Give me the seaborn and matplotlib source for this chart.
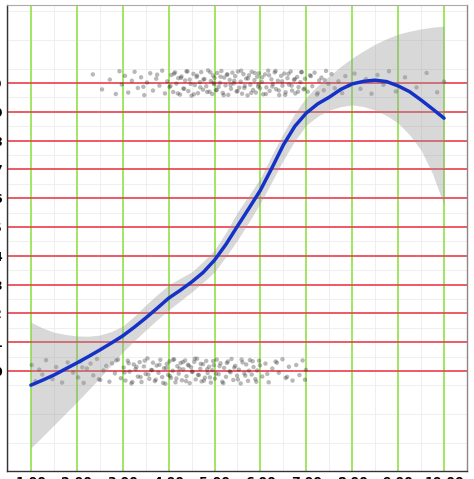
import matplotlib
matplotlib.use("Agg")
import matplotlib.pyplot as plt
import seaborn as sns

sns.set_style("white")
plt.rcParams['figure.dpi'] = 100

# axis breaks (labels are cropped in the reference)
x_breaks = [1, 2, 3, 4, 5, 6, 7, 8, 9, 10]
x_labels = ["1.00", "2.00", "3.00", "4.00", "5.00", "6.00", "7.00", "8.00", "9.00", "10.00"]
y_breaks = [0, 1, 2, 3, 4, 5, 6, 7, 8, 9, 10]
y_labels = ["0", "1", "2", "3", "4", "5", "6", "7", "8", "9", "10"]

# jittered observations, lower group
bot_x = [1.02, 1.10, 1.18, 1.25, 1.33, 1.47, 1.55, 1.68, 1.80, 1.92,
         2.03, 2.08, 2.15, 2.22, 2.30, 2.36, 2.44, 2.51, 2.58, 2.64, 2.71, 2.77, 2.83, 2.90, 2.96,
         3.02, 3.06, 3.11, 3.15, 3.19, 3.24, 3.28, 3.33, 3.37, 3.41, 3.46, 3.50, 3.54, 3.58, 3.62,
         3.66, 3.70, 3.74, 3.78, 3.82, 3.86, 3.90, 3.93, 3.96, 3.99,
         4.02, 4.05, 4.09, 4.12, 4.15, 4.19, 4.22, 4.26, 4.29, 4.32, 4.36, 4.39, 4.42, 4.46, 4.49,
         4.52, 4.56, 4.59, 4.62, 4.66, 4.69, 4.72, 4.75, 4.79, 4.82, 4.85, 4.88, 4.92, 4.95, 4.98,
         5.01, 5.05, 5.09, 5.13, 5.17, 5.21, 5.25, 5.29, 5.33, 5.37, 5.41, 5.45, 5.49, 5.53, 5.57,
         5.61, 5.65, 5.69, 5.73, 5.77, 5.81, 5.85, 5.89, 5.93, 5.97,
         6.04, 6.11, 6.18, 6.26, 6.33, 6.40, 6.48, 6.55, 6.62, 6.70, 6.78, 6.85, 6.92, 6.97, 6.99,
         3.04, 3.13, 3.21, 3.30, 3.39, 3.48, 3.56, 3.64, 3.72, 3.80, 3.88, 3.95, 4.03, 4.10, 4.17,
         4.24, 4.31, 4.38, 4.44, 4.51, 4.57, 4.64, 4.70, 4.77, 4.84, 4.90, 4.97, 5.03, 5.11, 5.19,
         5.27, 5.35, 5.43, 5.51, 5.59, 5.67, 5.75, 5.83, 5.91, 5.99, 6.15, 6.36, 6.58, 2.12, 2.48, 2.86]
bot_y = [0.21, -0.35, 0.05, -0.12, 0.38, -0.28, 0.14, -0.40, 0.30, -0.05,
         -0.22, 0.33, -0.41, 0.09, 0.26, -0.15, 0.42, -0.31, 0.02, 0.18, -0.37, 0.27, -0.08, 0.40, -0.25,
         0.12, -0.33, 0.36, -0.02, -0.43, 0.23, 0.07, -0.19, 0.31, -0.38, 0.16, -0.10, 0.44, -0.27, 0.04,
         0.29, -0.35, 0.19, -0.06, 0.39, -0.21, 0.10, -0.44, 0.25, -0.13,
         0.34, -0.24, 0.01, 0.41, -0.39, 0.17, -0.09, 0.28, -0.32, 0.06, 0.37, -0.18, 0.22, -0.42, 0.13,
         -0.03, 0.32, -0.29, 0.43, -0.14, 0.08, -0.36, 0.24, -0.23, 0.35, -0.07, 0.15, -0.40, 0.03, 0.20,
         -0.26, 0.40, -0.11, 0.27, -0.37, 0.11, -0.20, 0.33, -0.01, 0.42, -0.31, 0.18, -0.16, 0.05, -0.43,
         0.30, -0.08, 0.23, -0.34, 0.38, -0.12, 0.14, -0.28, 0.02, 0.36,
         -0.19, 0.26, -0.39, 0.09, 0.33, -0.06, 0.41, -0.24, 0.15, -0.33, 0.21, -0.14, 0.37, -0.30, 0.04,
         -0.05, 0.27, -0.38, 0.15, -0.21, 0.36, -0.12, 0.03, -0.30, 0.22, -0.41, 0.11, -0.17, 0.39, -0.26,
         0.08, 0.31, -0.35, 0.19, -0.02, 0.43, -0.13, 0.25, -0.33, 0.06, -0.22, 0.35, -0.09, 0.17, -0.42,
         0.28, -0.04, 0.12, -0.29, 0.40, -0.16, 0.01, 0.34, -0.37, 0.20, -0.10, 0.29, -0.20, 0.13, -0.28, 0.37]

# jittered observations, upper group
top_x = [2.35, 2.55, 2.72, 2.85, 2.93, 2.98,
         3.05, 3.12, 3.20, 3.26, 3.33, 3.40, 3.47, 3.53, 3.60, 3.66, 3.73, 3.80, 3.86, 3.92, 3.97,
         4.02, 4.06, 4.10, 4.14, 4.17, 4.21, 4.25, 4.28, 4.32, 4.36, 4.39, 4.43, 4.46, 4.50, 4.54,
         4.57, 4.61, 4.64, 4.68, 4.71, 4.75, 4.78, 4.82, 4.86, 4.89, 4.92, 4.95, 4.97, 4.99, 5.00,
         5.03, 5.06, 5.09, 5.12, 5.15, 5.18, 5.21, 5.24, 5.27, 5.30, 5.33, 5.36, 5.39, 5.42, 5.45,
         5.48, 5.51, 5.54, 5.57, 5.60, 5.63, 5.66, 5.69, 5.72, 5.75, 5.78, 5.81, 5.84, 5.87, 5.90,
         5.93, 5.95, 5.97, 5.99,
         6.03, 6.06, 6.10, 6.13, 6.17, 6.20, 6.24, 6.27, 6.31, 6.34, 6.38, 6.41, 6.45, 6.48, 6.52,
         6.55, 6.59, 6.62, 6.66, 6.69, 6.73, 6.76, 6.80, 6.83, 6.87, 6.90, 6.94, 6.97,
         7.03, 7.08, 7.13, 7.18, 7.23, 7.28, 7.33, 7.38, 7.43, 7.48, 7.55, 7.62, 7.70, 7.78, 7.85, 7.93,
         8.05, 8.18, 8.30, 8.42, 8.55, 8.68, 8.80, 8.95,
         9.15, 9.40, 9.62, 9.85, 10.0,
         4.04, 4.12, 4.20, 4.27, 4.34, 4.41, 4.48, 4.55, 4.62, 4.69, 4.76, 4.84, 4.91, 4.98, 5.05,
         5.13, 5.20, 5.28, 5.35, 5.43, 5.50, 5.58, 5.65, 5.73, 5.80, 5.88, 5.96, 6.04, 6.12, 6.19,
         6.26, 6.33, 6.40, 6.47, 6.54, 6.61, 6.68, 6.75, 6.82, 6.89, 6.96, 7.10, 7.25, 7.40, 3.45, 3.75]
top_y = [10.30, 9.78, 10.12, 9.62, 10.41, 9.95,
         10.25, 9.67, 10.08, 10.39, 9.83, 10.20, 9.58, 10.02, 10.34, 9.74, 10.15, 9.91, 10.43, 9.64, 10.06,
         9.86, 10.28, 9.69, 10.37, 9.98, 10.17, 9.60, 10.23, 9.81, 10.09, 10.41, 9.72, 10.12, 9.56, 10.32,
         9.93, 10.21, 9.65, 10.03, 10.38, 9.77, 10.14, 9.89, 10.44, 9.70, 10.07, 9.62, 10.26, 9.96, 10.18,
         9.75, 10.35, 9.87, 10.01, 10.42, 9.66, 10.19, 9.92, 10.29, 9.59, 10.11, 9.80, 10.36, 9.99, 10.24,
         9.71, 10.40, 9.84, 10.05, 9.63, 10.31, 9.90, 10.16, 9.57, 10.27, 9.94, 10.39, 9.76, 10.10, 9.67,
         10.22, 9.88, 10.34, 9.82,
         10.04, 9.61, 10.30, 9.85, 10.43, 9.73, 10.13, 9.97, 10.37, 9.79, 10.08, 9.58, 10.25, 9.91, 10.33,
         9.68, 10.17, 9.95, 10.40, 9.74, 10.11, 9.64, 10.21, 9.86, 10.03, 10.38, 9.78, 10.15,
         9.70, 10.27, 9.89, 10.36, 9.60, 10.09, 10.19, 9.75, 10.42, 9.97, 10.31, 9.82, 10.06, 9.65, 10.24, 9.92,
         10.33, 9.80, 10.14, 9.63, 10.28, 9.94, 10.41, 9.71,
         10.20, 9.85, 10.35, 9.68, 10.05,
         9.90, 10.33, 9.64, 10.18, 9.80, 10.40, 9.97, 9.61, 10.26, 9.85, 10.12, 9.69, 10.37, 10.01, 9.76,
         10.22, 9.58, 10.30, 9.93, 10.08, 9.72, 10.43, 9.83, 10.16, 9.66, 10.35, 9.95, 10.20, 9.62, 10.27,
         9.88, 10.42, 9.74, 10.06, 9.59, 10.32, 9.91, 10.14, 9.70, 10.38, 9.81, 10.24, 9.65, 10.10, 9.87, 10.29]

# smoothed fit with its confidence band
fit_x = [1.0, 1.25, 1.5, 1.75, 2.0, 2.25, 2.5, 2.75, 3.0, 3.25, 3.5, 3.75, 4.0, 4.25,
         4.5, 4.75, 5.0, 5.25, 5.5, 5.75, 6.0, 6.25, 6.5, 6.75, 7.0, 7.25, 7.5, 7.75,
         8.0, 8.25, 8.5, 8.75, 9.0, 9.25, 9.5, 9.75, 10.0]
fit_y = [-0.49, -0.32, -0.14, 0.07, 0.28, 0.50, 0.73, 0.97, 1.22, 1.52, 1.84, 2.18, 2.53, 2.80,
         3.09, 3.42, 3.85, 4.40, 5.03, 5.65, 6.28, 7.05, 7.85, 8.50, 8.96, 9.28, 9.51, 9.78,
         9.97, 10.06, 10.10, 10.05, 9.90, 9.70, 9.41, 9.10, 8.78]
fit_hi = [1.70, 1.50, 1.35, 1.27, 1.22, 1.21, 1.25, 1.37, 1.56, 1.90, 2.29, 2.65, 2.99, 3.22,
          3.44, 3.80, 4.20, 4.82, 5.52, 6.10, 6.70, 7.50, 8.26, 8.95, 9.51, 9.92, 10.24, 10.58,
          10.87, 11.12, 11.35, 11.54, 11.70, 11.80, 11.88, 11.94, 11.98]
fit_lo = [-2.67, -2.28, -1.88, -1.48, -1.08, -0.66, -0.24, 0.21, 0.66, 1.05, 1.42, 1.78, 2.12, 2.43,
          2.74, 3.08, 3.44, 3.98, 4.55, 5.18, 5.83, 6.58, 7.33, 8.00, 8.54, 8.85, 9.06, 9.18,
          9.24, 9.18, 9.06, 8.87, 8.61, 8.20, 7.67, 6.85, 5.76]

fig = plt.figure(figsize=(4.74, 4.79))
ax = fig.add_axes([7 / 474, 8 / 479, 460 / 474, 466 / 479])

# faint minor grid
for v in [0.5 + i for i in range(11)]:
    ax.axvline(v, color="#ececec", lw=0.6, zorder=0)
for v in [-2.5 + i for i in range(16)]:
    ax.axhline(v, color="#ececec", lw=0.6, zorder=0)

# coloured major grid
for v in x_breaks:
    ax.axvline(v, color="#9fe660", lw=1.4, zorder=1)
for v in y_breaks:
    ax.axhline(v, color="#e8404a", lw=1.2, zorder=1)

sns.scatterplot(x=bot_x, y=bot_y, color="#222222", alpha=0.32, s=10,
                edgecolor="none", ax=ax, zorder=2)
sns.scatterplot(x=top_x, y=top_y, color="#222222", alpha=0.32, s=10,
                edgecolor="none", ax=ax, zorder=2)

ax.fill_between(fit_x, fit_lo, fit_hi, color="#999999", alpha=0.38,
                linewidth=0, zorder=3)
sns.lineplot(x=fit_x, y=fit_y, color="#1432c8", lw=2.5, ax=ax, zorder=4)

ax.set_xlim(0.48, 10.5)
ax.set_ylim(-3.47, 12.71)
ax.set_xticks(x_breaks)
ax.set_xticklabels(x_labels)
ax.set_yticks(y_breaks)
ax.set_yticklabels(y_labels)
ax.tick_params(axis="both", length=2.5, width=1, pad=1, labelsize=9,
               colors="black")
for lab in ax.get_yticklabels() + ax.get_xticklabels():
    lab.set_fontweight("bold")

ax.spines["left"].set_color("#333333")
ax.spines["bottom"].set_color("#333333")
ax.spines["left"].set_linewidth(1.0)
ax.spines["bottom"].set_linewidth(1.0)
ax.spines["top"].set_color("#aaaaaa")
ax.spines["right"].set_color("#888888")
ax.spines["top"].set_linewidth(0.8)
ax.spines["right"].set_linewidth(1.0)

plt.savefig("out.png", dpi=100)
